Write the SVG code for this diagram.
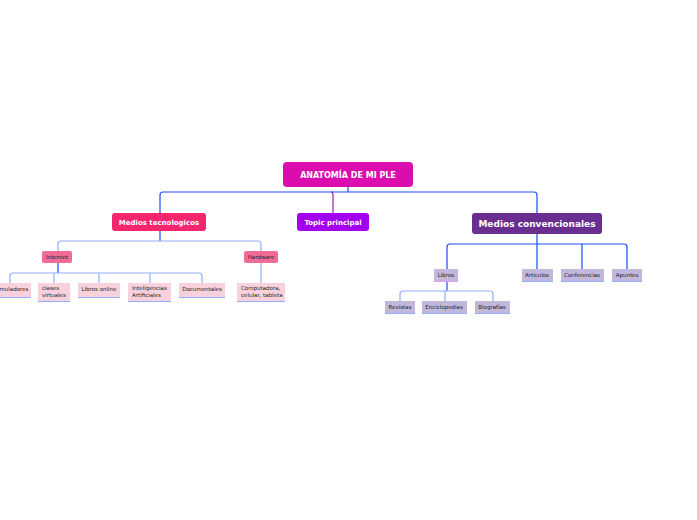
<svg xmlns="http://www.w3.org/2000/svg" width="697" height="520" viewBox="0 0 697 520">
<style>
text{font-family:"DejaVu Sans","Liberation Sans",sans-serif}
.c{fill:none;stroke:#1a4cff;stroke-width:1.2}
.cl{fill:none;stroke:#8fb0ff;stroke-width:1.2}
.t1{fill:#fff;font-weight:bold;font-size:8px;text-anchor:middle}
.t2{fill:#222;font-size:5.5px;text-anchor:middle}
.t3{fill:#222;font-size:5.5px}
.pk{fill:#f9d1dc}
.pv{fill:#c2b8db}
</style>
<g id="connectors">
<path class="c" d="M348 187V192M163 192H534Q537 192 537 195V213M160 213V195Q160 192 163 192"/>
<path d="M333 192H331Q333 192 333 195V213" fill="none" stroke="#9b1fc0" stroke-width="1.2"/>
<path class="c" d="M160 231V241M537 234V244"/>
<path class="cl" d="M58 251V244Q58 241 61 241H258Q261 241 261 244V251"/>
<path class="c" d="M58 263V273"/>
<path class="cl" d="M10 283V276Q10 273 13 273H199Q202 273 202 276V283M54 273V283M99 273V283M150 273V283M261 263V283"/>
<path class="c" d="M447 269V247Q447 244 450 244H624Q627 244 627 247V269M537 244V269M582 244V269"/>
<path class="c" d="M447 281V291"/>
<path class="cl" d="M400 301V294Q400 291 403 291H490Q493 291 493 294V301M445 291V301"/>
</g>
<g id="root"><rect x="283" y="162" width="130" height="25" rx="4" fill="#dc0daf"/><text class="t1" x="348" y="178">ANATOMÍA DE MI PLE</text></g>
<g id="tec"><rect x="112" y="213" width="94" height="18" rx="3" fill="#f5266e"/><text class="t1" x="159" y="225" style="font-size:7px">Medios tecnologicos</text></g>
<g id="topic"><rect x="297" y="213" width="72" height="18" rx="3" fill="#a300f0"/><text class="t1" x="333" y="225" style="font-size:7px">Topic principal</text></g>
<g id="conv"><rect x="472" y="213" width="130" height="21" rx="3" fill="#6a2e91"/><text class="t1" x="537" y="227" style="font-size:9px">Medios convencionales</text></g>
<g id="internet"><rect x="42" y="251" width="30" height="12" rx="2" fill="#f06c96"/><text class="t2" x="57" y="259">Internet</text></g>
<g id="hardware"><rect x="244" y="251" width="34" height="12" rx="2" fill="#f06c96"/><text class="t2" x="261" y="259">Hardware</text></g>
<g id="emu"><rect x="-10" y="283" width="41" height="14" class="pk"/><line x1="-10" y1="297.5" x2="31" y2="297.5" stroke="#8fb0ff"/><text class="t3" x="-4" y="291">Emuladores</text></g>
<g id="clases"><rect x="38" y="283" width="32" height="18" class="pk"/><line x1="38" y1="301.5" x2="70" y2="301.5" stroke="#8fb0ff"/><text class="t3" x="42" y="290">clases</text><text class="t3" x="42" y="297">virtuales</text></g>
<g id="libon"><rect x="78" y="283" width="42" height="14" class="pk"/><line x1="78" y1="297.5" x2="120" y2="297.5" stroke="#8fb0ff"/><text class="t2" x="99" y="291">Libros online</text></g>
<g id="ia"><rect x="128" y="283" width="43" height="18" class="pk"/><line x1="128" y1="301.5" x2="171" y2="301.5" stroke="#8fb0ff"/><text class="t3" x="132" y="290">Inteligencias</text><text class="t3" x="132" y="297">Artificiales</text></g>
<g id="doc"><rect x="179" y="283" width="46" height="14" class="pk"/><line x1="179" y1="297.5" x2="225" y2="297.5" stroke="#8fb0ff"/><text class="t2" x="202" y="291">Documentales</text></g>
<g id="comp"><rect x="237" y="283" width="48" height="18" class="pk"/><line x1="237" y1="301.5" x2="285" y2="301.5" stroke="#8fb0ff"/><text class="t3" x="241" y="290">Computadora,</text><text class="t3" x="241" y="297">celular, tableta</text></g>
<g id="libros"><rect x="434" y="269" width="24" height="12" class="pv"/><line x1="434" y1="281.5" x2="458" y2="281.5" stroke="#e0a0f0"/><text class="t2" x="446" y="277">Libros</text></g>
<g id="art"><rect x="522" y="269" width="31" height="12" class="pv"/><line x1="522" y1="281.5" x2="553" y2="281.5" stroke="#8fb0ff"/><text class="t2" x="537" y="277">Articulos</text></g>
<g id="conf"><rect x="561" y="269" width="43" height="12" class="pv"/><line x1="561" y1="281.5" x2="604" y2="281.5" stroke="#8fb0ff"/><text class="t2" x="582" y="277">Conferencias</text></g>
<g id="apu"><rect x="612" y="269" width="30" height="12" class="pv"/><line x1="612" y1="281.5" x2="642" y2="281.5" stroke="#8fb0ff"/><text class="t2" x="627" y="277">Apuntes</text></g>
<g id="rev"><rect x="385" y="301" width="30" height="12" class="pv"/><line x1="385" y1="313.5" x2="415" y2="313.5" stroke="#8fb0ff"/><text class="t2" x="400" y="309">Revistas</text></g>
<g id="enc"><rect x="422" y="301" width="45" height="12" class="pv"/><line x1="422" y1="313.5" x2="467" y2="313.5" stroke="#8fb0ff"/><text class="t2" x="444" y="309">Enciclopedias</text></g>
<g id="bio"><rect x="475" y="301" width="35" height="12" class="pv"/><line x1="475" y1="313.5" x2="510" y2="313.5" stroke="#8fb0ff"/><text class="t2" x="492" y="309">Biografías</text></g>
</svg>
